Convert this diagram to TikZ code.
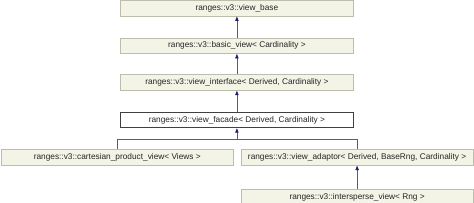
\documentclass[tikz,border=0pt]{standalone}
\usepackage{fontspec}
\setmainfont{Liberation Sans}
\usetikzlibrary{arrows.meta}
\definecolor{boxfill}{HTML}{F3F3E6}
\definecolor{boxdraw}{HTML}{BDBDAE}
\definecolor{edgecol}{HTML}{5A52A8}
\definecolor{tipcol}{HTML}{1C1C70}
\definecolor{txt}{HTML}{262626}
\begin{document}
\begin{tikzpicture}[x=1pt,y=1pt,
  cls/.style={draw=boxdraw, fill=boxfill, line width=0.8pt, minimum height=15.6pt, inner sep=0pt,
    text=txt, font=\fontsize{8.3}{9}\selectfont, anchor=north west},
  cur/.style={cls, draw=black!75, fill=white},
  inh/.style={draw=edgecol, line width=0.7pt, -{Triangle[length=4.5pt,width=3.4pt,color=tipcol]}},
  ln/.style={draw=edgecol, line width=0.7pt}]
\useasboundingbox (0,0) rectangle (474,-202);
\node[cls, minimum width=233pt] (base) at (120,0) {ranges::v3::view\_base};
\node[cls, minimum width=233pt] (basic) at (120,-37.5) {ranges::v3::basic\_view< Cardinality >};
\node[cls, minimum width=233pt] (iface) at (120,-74.3) {ranges::v3::view\_interface< Derived, Cardinality >};
\node[cur, minimum width=233pt] (facade) at (120,-111.8) {ranges::v3::view\_facade< Derived, Cardinality >};
\node[cls, minimum width=232.5pt] (cart) at (0.6,-149.2) {ranges::v3::cartesian\_product\_view< Views >};
\node[cls, minimum width=231.8pt] (adapt) at (240.8,-149.2) {ranges::v3::view\_adaptor< Derived, BaseRng, Cardinality >};
\node[cls, minimum width=231.8pt, minimum height=15.6pt] (inter) at (240.8,-189.3) {ranges::v3::intersperse\_view< Rng >};
\coordinate (j) at (facade.south |- 0,-139.3);
\draw[inh] (basic.north) -- (base.south);
\draw[inh] (iface.north) -- (basic.south);
\draw[inh] (facade.north) -- (iface.south);
\draw[ln] (cart.north) |- (j);
\draw[ln] (adapt.north) |- (j);
\draw[inh] (j) -- (facade.south);
\draw[inh] (inter.north) -- (adapt.south);
\end{tikzpicture}
\end{document}
